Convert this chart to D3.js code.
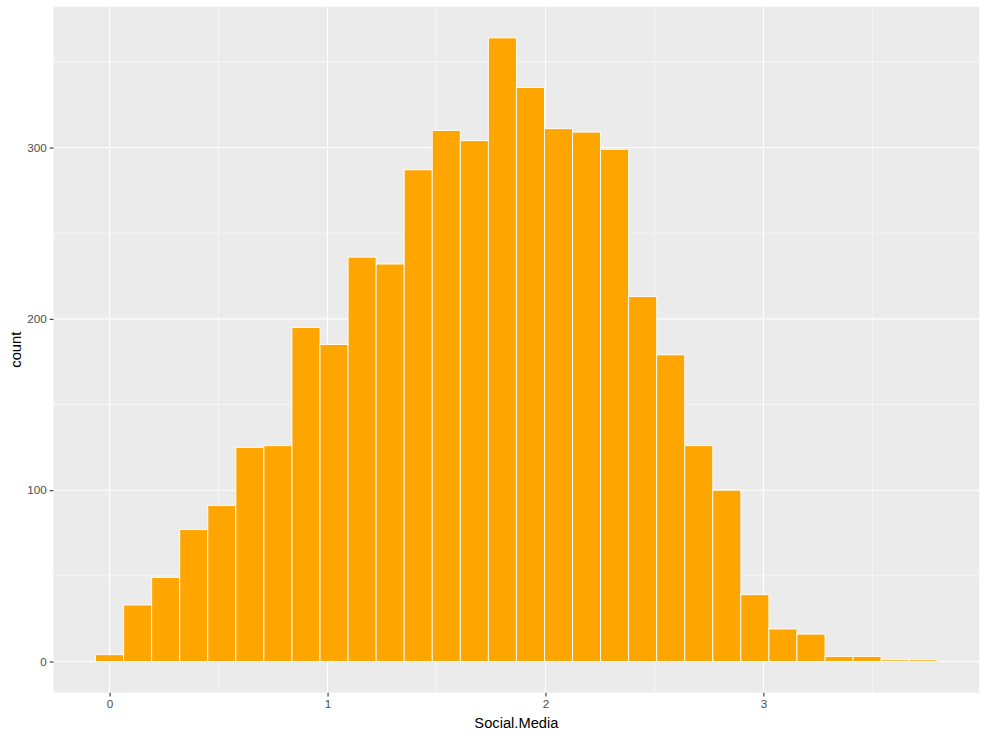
<!DOCTYPE html>
<html>
<head>
<meta charset="utf-8">
<script src="https://cdn.jsdelivr.net/npm/d3@7"></script>
<style>
  html, body { margin: 0; padding: 0; background: #fff; }
  svg { display: block; font-family: "Liberation Sans", Arial, sans-serif; }
</style>
</head>
<body>
<div id="chart"></div>
<script>
// histogram of Social.Media, 30 bins
const binStarts = [-0.0644, 0.0644, 0.1931, 0.3218, 0.4506, 0.5793, 0.7080, 0.8368, 0.9655, 1.0942,
                   1.2230, 1.3517, 1.4804, 1.6092, 1.7379, 1.8666, 1.9954, 2.1241, 2.2528, 2.3816,
                   2.5103, 2.6390, 2.7678, 2.8965, 3.0252, 3.1540, 3.2827, 3.4114, 3.5402, 3.6689];
const binWidth = 0.12873;
const counts = [4, 33, 49, 77, 91, 125, 126, 195, 185, 236,
                232, 287, 310, 304, 364, 335, 311, 309, 299, 213,
                179, 126, 100, 39, 19, 16, 3, 3, 1, 1];
const xTicks = [0, 1, 2, 3];
const xMinor = [0.5, 1.5, 2.5, 3.5];
const yTicks = [0, 100, 200, 300];
const yMinor = [50, 150, 250, 350];

const W = 987, H = 738;
const panel = {left: 53.5, right: 979.3, top: 6.7, bottom: 692.7};

const svg = d3.select('#chart').append('svg')
  .attr('width', W).attr('height', H);

// ggplot style 5% expansion on both sides
const xLo = binStarts[0], xHi = binStarts[binStarts.length - 1] + binWidth;
const xPad = (xHi - xLo) * 0.05;
const x = d3.scaleLinear().domain([xLo - xPad, xHi + xPad]).range([panel.left, panel.right]);
const yMax = d3.max(counts);
const y = d3.scaleLinear().domain([-yMax * 0.05, yMax * 1.05]).range([panel.bottom, panel.top]);

svg.append('rect')
  .attr('x', panel.left).attr('y', panel.top)
  .attr('width', panel.right - panel.left).attr('height', panel.bottom - panel.top)
  .attr('fill', '#EBEBEB');

const grid = svg.append('g');
grid.selectAll('.xmin').data(xMinor).enter().append('line')
  .attr('x1', d => x(d)).attr('x2', d => x(d))
  .attr('y1', panel.top).attr('y2', panel.bottom)
  .attr('stroke', '#fff').attr('stroke-width', 0.55);
grid.selectAll('.ymin').data(yMinor).enter().append('line')
  .attr('y1', d => y(d)).attr('y2', d => y(d))
  .attr('x1', panel.left).attr('x2', panel.right)
  .attr('stroke', '#fff').attr('stroke-width', 0.55);
grid.selectAll('.xmaj').data(xTicks).enter().append('line')
  .attr('x1', d => x(d)).attr('x2', d => x(d))
  .attr('y1', panel.top).attr('y2', panel.bottom)
  .attr('stroke', '#fff').attr('stroke-width', 1.1);
grid.selectAll('.ymaj').data(yTicks).enter().append('line')
  .attr('y1', d => y(d)).attr('y2', d => y(d))
  .attr('x1', panel.left).attr('x2', panel.right)
  .attr('stroke', '#fff').attr('stroke-width', 1.1);

// bars
svg.append('g').selectAll('rect')
  .data(counts.map((c, i) => ({x0: binStarts[i], c})))
  .enter().append('rect')
    .attr('x', d => x(d.x0))
    .attr('width', x(binWidth) - x(0))
    .attr('y', d => y(d.c))
    .attr('height', d => y(0) - y(d.c))
    .attr('fill', '#FFA500')
    .attr('stroke', '#fff')
    .attr('stroke-width', 0.9);

// axes
const xAxis = svg.append('g')
  .attr('transform', `translate(0,${panel.bottom})`)
  .call(d3.axisBottom(x).tickValues(xTicks).tickFormat(d3.format('d')).tickSize(3.7).tickPadding(3));
const yAxis = svg.append('g')
  .attr('transform', `translate(${panel.left},0)`)
  .call(d3.axisLeft(y).tickValues(yTicks).tickFormat(d3.format('d')).tickSize(3.7).tickPadding(3));

[xAxis, yAxis].forEach(a => {
  a.select('.domain').remove();
  a.selectAll('line').attr('stroke', '#333333').attr('stroke-width', 1.1);
  a.selectAll('text').attr('fill', '#4D4D4D').style('font-size', '11.7px')
    .style('font-family', '"Liberation Sans", Arial, sans-serif');
});

svg.append('text')
  .attr('x', (panel.left + panel.right) / 2).attr('y', 727.5)
  .attr('text-anchor', 'middle')
  .style('font-size', '14.7px').attr('fill', '#000')
  .text('Social.Media');

svg.append('text')
  .attr('transform', `translate(20.5,${(panel.top + panel.bottom) / 2}) rotate(-90)`)
  .attr('text-anchor', 'middle')
  .style('font-size', '14.7px').attr('fill', '#000')
  .text('count');
</script>
</body>
</html>
